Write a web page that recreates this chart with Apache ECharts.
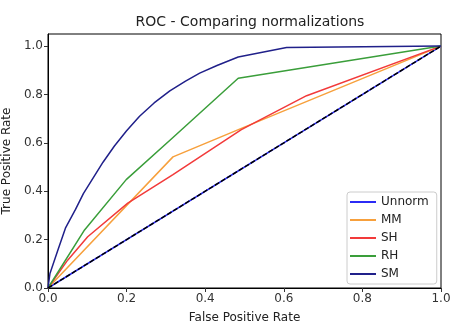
<!DOCTYPE html>
<html>
<head>
<meta charset="utf-8">
<script src="https://cdn.jsdelivr.net/npm/echarts@6/dist/echarts.min.js"></script>
<style>html,body{margin:0;padding:0;background:#fff;}#c{width:474px;height:332px;}</style>
</head>
<body>
<div id="c"></div>
<script>
var seriesNames = ['Unnorm', 'MM', 'SH', 'RH', 'SM'];
var unnormFpr = [0, 1];
var unnormTpr = [0, 1];
var mmFpr = [0, 0.318, 0.492, 1];
var mmTpr = [0, 0.542, 0.66, 1];
var shFpr = [0, 0.05, 0.101, 0.203, 0.318, 0.492, 0.658, 1];
var shTpr = [0, 0.115, 0.212, 0.351, 0.469, 0.655, 0.795, 1];
var rhFpr = [0, 0.093, 0.199, 0.318, 0.484, 1];
var rhTpr = [0, 0.24, 0.448, 0.622, 0.867, 1];
var smFpr = [0, 0.005, 0.025, 0.045, 0.07, 0.09, 0.115, 0.14, 0.169, 0.2, 0.233, 0.27, 0.31, 0.35, 0.386, 0.43, 0.484, 0.607, 1];
var smTpr = [0, 0.06, 0.156, 0.25, 0.325, 0.39, 0.455, 0.52, 0.587, 0.65, 0.71, 0.765, 0.815, 0.855, 0.888, 0.92, 0.955, 0.994, 1];
var chanceFpr = [0, 1];
var chanceTpr = [0, 1];
var tickValues = [0, 0.2, 0.4, 0.6, 0.8, 1.0];

function pairs(xs, ys) { return xs.map(function (x, i) { return [x, ys[i]]; }); }

var colors = { Unnorm: '#2b2bf5', MM: '#f7a03c', SH: '#f23a3a', RH: '#3a9e3a', SM: '#20208a' };
var dataMap = {
  Unnorm: pairs(unnormFpr, unnormTpr),
  MM: pairs(mmFpr, mmTpr),
  SH: pairs(shFpr, shTpr),
  RH: pairs(rhFpr, rhTpr),
  SM: pairs(smFpr, smTpr)
};

var series = seriesNames.map(function (n) {
  return {
    name: n, type: 'line', data: dataMap[n], showSymbol: false, symbol: 'none',
    lineStyle: { color: colors[n], width: 1.5 }, itemStyle: { color: colors[n] },
    animation: false, silent: true
  };
});
series.push({
  name: 'chance', type: 'line', data: pairs(chanceFpr, chanceTpr), showSymbol: false, symbol: 'none',
  lineStyle: { color: '#000', width: 1.5, type: [5, 2] }, animation: false, silent: true
});

var font = 'DejaVu Sans';
var axisCommon = {
  type: 'value',
  axisLine: { show: true, onZero: false, lineStyle: { color: '#000', width: 1 } },
  axisTick: { show: true, length: 4, inside: false, lineStyle: { color: '#333' }, customValues: tickValues },
  splitLine: { show: false },
  nameTextStyle: { fontFamily: font, fontSize: 12, color: '#222' }
};

var chart = echarts.init(document.getElementById('c'));
chart.setOption({
  backgroundColor: '#fff',
  animation: false,
  title: {
    text: 'ROC - Comparing normalizations', left: 245, top: 10, textAlign: 'center',
    textStyle: { fontFamily: font, fontSize: 14, fontWeight: 'normal', color: '#222' }
  },
  grid: { left: 48, right: 33, top: 34, bottom: 44, containLabel: false, outerBoundsMode: 'none',
    show: true, borderColor: '#000', borderWidth: 1, backgroundColor: 'transparent' },
  legend: {
    data: seriesNames, orient: 'vertical', left: 347, top: 192,
    itemWidth: 26, itemHeight: 2, itemGap: 4, icon: 'rect',
    padding: [3, 8, 3, 3],
    backgroundColor: '#fff', borderColor: '#ccc', borderWidth: 1, borderRadius: 3,
    textStyle: { fontFamily: font, fontSize: 12, color: '#222', lineHeight: 14 }
  },
  xAxis: Object.assign({}, axisCommon, {
    min: 0, max: 1, interval: 0.2,
    name: 'False Positive Rate', nameLocation: 'middle', nameGap: 24,
    axisLabel: { fontFamily: font, fontSize: 12, color: '#333', margin: 5, customValues: tickValues,
      formatter: function (v) { return v.toFixed(1); } }
  }),
  yAxis: Object.assign({}, axisCommon, {
    min: 0, max: 1.05, interval: 0.2,
    name: 'True Positive Rate', nameLocation: 'middle', nameGap: 27,
    axisLabel: { fontFamily: font, fontSize: 12, color: '#333', margin: 5, customValues: tickValues,
      formatter: function (v) { return v.toFixed(1); } }
  }),
  series: series
});
</script>
</body>
</html>
